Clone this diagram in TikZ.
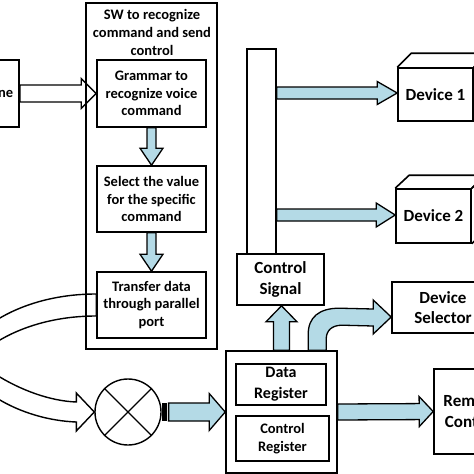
\documentclass[tikz,border=0pt]{standalone}
\usepackage{fontspec}
\setmainfont{Carlito}
\usetikzlibrary{calc}
\definecolor{lblue}{RGB}{180,218,230}
\newcommand\fsA{\fontsize{14.5}{17.5}\selectfont\bfseries}
\newcommand\fsT{\fontsize{14.5}{18}\selectfont\bfseries}
\newcommand\fsB{\fontsize{17}{20.5}\selectfont\bfseries}
\newcommand\fsC{\fontsize{16}{21}\selectfont\bfseries}
% #1 style, #2 start, #3 tip, #4 shaft half width, #5 head half width, #6 head length
\newcommand\blockarrow[6]{%
  \coordinate (baS) at (#2);
  \coordinate (baT) at (#3);
  \coordinate (baB) at ($(baT)!#6!(baS)$);
  \draw[#1] ($(baS)!#4!90:(baT)$) -- ($(baB)!#4!90:(baT)$) -- ($(baB)!#5!90:(baT)$) -- (baT)
    -- ($(baB)!#5!-90:(baT)$) -- ($(baB)!#4!-90:(baT)$) -- ($(baS)!#4!-90:(baT)$) -- cycle;
}
\begin{document}
\begin{tikzpicture}[x=1pt,y=-1pt,line join=miter,
  box/.style={draw,line width=1.6pt,inner sep=0pt,align=center,font=\fsA,fill=white},
  txt/.style={inner sep=0pt,align=center},
  bluearrow/.style={draw,fill=lblue,line width=1.3pt},
  hollow/.style={draw,line width=1.4pt},
  edge3d/.style={draw,line width=1.6pt}]
\useasboundingbox (0,0) rectangle (474,474);
\clip (0,0) rectangle (474,474);

% left column
\node[box,minimum width=85,minimum height=67] (mic) at (-23.5,93.5) {Microphone};
\node[box,minimum width=131,minimum height=346,fill=none] (sw) at (151.5,176) {};
\node[txt,font=\fsT] (swtitle) at (152,32) {SW to recognize\\command and send\\control};
\node[box,minimum width=109,minimum height=67] (gram) at (151.5,93.5) {Grammar to\\recognize voice\\command};
\node[box,minimum width=109,minimum height=66] (sel) at (151.5,199) {Select the value\\for the specific\\command};
\node[box,minimum width=109,minimum height=66] (trans) at (151.5,305) {Transfer data\\through parallel\\port};

\blockarrow{hollow}{mic.east}{gram.west}{8.5pt}{15pt}{15pt}
\blockarrow{bluearrow}{gram.south}{sel.north}{4.5pt}{11.5pt}{17pt}
\blockarrow{bluearrow}{sel.south}{trans.north}{4.5pt}{11.5pt}{17pt}

% bus and devices
\node[box,minimum width=29,minimum height=205] (bus) at (261.5,151.5) {};
\node[box,font=\fsB,minimum width=87,minimum height=51] (cs) at (280.5,279.5) {Control\\Signal};

\node[box,font=\fsB,minimum width=75,minimum height=53] (dev1) at (435.5,94.5) {Device 1};
\draw[edge3d] (dev1.north west) -- ++(14,-14) -- ++(75,0) -- (dev1.north east);
\draw[edge3d] (dev1.north east) -- ++(14,-14) -- ++(0,53) -- (dev1.south east);
\node[box,font=\fsB,minimum width=75,minimum height=54] (dev2) at (433.5,216) {Device 2};
\draw[edge3d] (dev2.north west) -- ++(14,-13) -- ++(75,0) -- (dev2.north east);
\draw[edge3d] (dev2.north east) -- ++(14,-13) -- ++(0,54) -- (dev2.south east);

\coordinate (b1) at ($(bus.east |- dev1.west)+(0,-1.5)$);
\coordinate (t1) at ($(dev1.west)+(0,-1.5)$);
\blockarrow{bluearrow}{b1}{t1}{6pt}{11.5pt}{20pt}
\coordinate (b2) at ($(bus.east |- dev2.west)+(0,-1)$);
\coordinate (t2) at ($(dev2.west)+(0,-1)$);
\blockarrow{bluearrow}{b2}{t2}{6pt}{12pt}{19pt}

% registers
\node[box,minimum width=111,minimum height=122] (dout) at (281.5,412) {};
\node[box,font=\fsC,minimum width=90,minimum height=41] (dreg) at (281,384.5) {Data\\Register};
\node[box,minimum width=93,minimum height=45] (creg) at (282.5,438.5) {Control\\Register};

\node[box,font=\fsB,minimum width=102,minimum height=51] (dsel) at (443,307.5) {Device\\Selector};
\node[box,font=\fsB,minimum width=74,minimum height=85] (rem) at (471,411.5) {Remote\\Control};

\coordinate (up0) at (dout.north);
\coordinate (up1) at (dout.north |- cs.south);
\blockarrow{bluearrow}{up0}{up1}{8pt}{15.5pt}{16pt}
\blockarrow{bluearrow}{dout.east}{rem.west}{8pt}{15pt}{14pt}

% curved arrow to device selector
\coordinate (ca1) at ($(dout.north west)+(83,0)$);
\coordinate (ca2) at ($(dout.north west)+(101,0)$);
\coordinate (catip) at ($(dsel.west)+(0,9.5)$);
\draw[bluearrow] (ca1) -- ($(ca1)+(0,-16)$)
  .. controls ($(ca1)+(0,-33)$) and ($(ca1)+(11,-42)$) .. ($(ca1)+(31,-42)$)
  -- ($(catip)+(-18,-8)$) -- ($(catip)+(-18,-17)$) -- (catip)
  -- ($(catip)+(-18,17)$) -- ($(catip)+(-18,9)$)
  -- ($(ca2)+(16,-25)$)
  .. controls ($(ca2)+(6,-25)$) and ($(ca2)+(0,-20)$) .. ($(ca2)+(0,-11)$)
  -- (ca2) -- cycle;

% multiplier
\node[draw,circle,line width=1.4pt,minimum size=66,inner sep=0pt] (mult) at (128,412) {};
\draw[line width=1.4pt] (mult.north west) -- (mult.south east);
\draw[line width=1.4pt] (mult.north east) -- (mult.south west);
\node[fill=black,minimum width=5,minimum height=18,inner sep=0pt,anchor=west] (bar) at (mult.east) {};
\coordinate (barend) at ($(bar.east)+(1.5,0)$);
\blockarrow{bluearrow}{barend}{dout.west}{9pt}{18.5pt}{16pt}

% hollow loop bands
\coordinate (loopA) at (-5,321);
\coordinate (loopB) at (-5,343);
\draw[hollow] (loopA) .. controls (20,305) and (55,294) .. ($(trans.west)+(0,-11)$)
  -- ($(trans.west)+(0,11)$) .. controls (55,316) and (20,327) .. (loopB);
\coordinate (loopC) at (-5,374);
\coordinate (loopD) at (-5,397);
\coordinate (mw) at (mult.west);
\draw[hollow] (loopC) .. controls (20,390) and (50,401) .. ($(mw)+(-18,-10)$)
  -- ($(mw)+(-18,-19)$) -- (mw) -- ($(mw)+(-18,19)$) -- ($(mw)+(-18,10)$)
  .. controls (50,421) and (20,413) .. (loopD);
\end{tikzpicture}
\end{document}
